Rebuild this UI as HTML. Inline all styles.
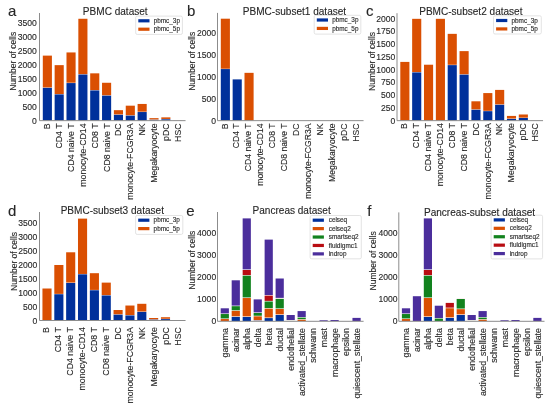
<!DOCTYPE html>
<html><head><meta charset="utf-8"><style>
html,body{margin:0;padding:0;background:#fff;width:550px;height:410px;overflow:hidden}
svg{display:block;will-change:transform}
text{font-family:"Liberation Sans", sans-serif;fill:#262626;stroke:#2a2a2a;stroke-width:0.12px}
</style></head><body>
<svg width="550" height="410" viewBox="0 0 550 410">

<rect x="42.8" y="87.79" width="9.11" height="32.68" fill="#00309b"/>
<rect x="42.8" y="55.62" width="9.11" height="31.82" fill="#da4f02"/>
<rect x="54.64" y="94.38" width="9.11" height="26.1" fill="#00309b"/>
<rect x="54.64" y="65.14" width="9.11" height="28.89" fill="#da4f02"/>
<rect x="66.49" y="83.08" width="9.11" height="37.4" fill="#00309b"/>
<rect x="66.49" y="52.44" width="9.11" height="30.28" fill="#da4f02"/>
<rect x="78.34" y="74.46" width="9.11" height="46.02" fill="#00309b"/>
<rect x="78.34" y="18.77" width="9.11" height="55.34" fill="#da4f02"/>
<rect x="90.19" y="90.41" width="9.11" height="30.06" fill="#00309b"/>
<rect x="90.19" y="73.34" width="9.11" height="16.72" fill="#da4f02"/>
<rect x="102.04" y="95.58" width="9.11" height="24.9" fill="#00309b"/>
<rect x="102.04" y="82.77" width="9.11" height="12.46" fill="#da4f02"/>
<rect x="113.89" y="114.74" width="9.11" height="5.73" fill="#00309b"/>
<rect x="113.89" y="110.17" width="9.11" height="4.23" fill="#da4f02"/>
<rect x="125.75" y="115.55" width="9.11" height="4.92" fill="#00309b"/>
<rect x="125.75" y="105.68" width="9.11" height="9.53" fill="#da4f02"/>
<rect x="137.6" y="112.04" width="9.11" height="8.44" fill="#00309b"/>
<rect x="137.6" y="103.95" width="9.11" height="7.74" fill="#da4f02"/>
<rect x="149.45" y="119.76" width="9.11" height="0.71" fill="#00309b"/>
<rect x="149.45" y="118.15" width="9.11" height="1.27" fill="#da4f02"/>
<rect x="161.3" y="119.29" width="9.11" height="1.18" fill="#00309b"/>
<rect x="161.3" y="117.37" width="9.11" height="1.58" fill="#da4f02"/>
<rect x="173.15" y="120.66" width="9.11" height="0.05" fill="#00309b"/>
<rect x="173.15" y="120.6" width="9.11" height="0.05" fill="#da4f02"/>
<line x1="39.5" y1="13" x2="39.5" y2="120.65" stroke="#8c8c8c" stroke-width="1"/>
<line x1="39.5" y1="120.65" x2="185.55" y2="120.65" stroke="#8c8c8c" stroke-width="1"/>
<text x="36.9" y="123.73" font-size="8.6" text-anchor="end">0</text>
<text x="36.9" y="109.78" font-size="8.6" text-anchor="end">500</text>
<text x="36.9" y="95.83" font-size="8.6" text-anchor="end">1000</text>
<text x="36.9" y="81.88" font-size="8.6" text-anchor="end">1500</text>
<text x="36.9" y="67.93" font-size="8.6" text-anchor="end">2000</text>
<text x="36.9" y="53.98" font-size="8.6" text-anchor="end">2500</text>
<text x="36.9" y="40.03" font-size="8.6" text-anchor="end">3000</text>
<text x="36.9" y="26.08" font-size="8.6" text-anchor="end">3500</text>
<text transform="translate(50.38 123.45) rotate(-90)" font-size="8.75" text-anchor="end">B</text>
<text transform="translate(62.23 123.45) rotate(-90)" font-size="8.75" text-anchor="end">CD4 T</text>
<text transform="translate(74.08 123.45) rotate(-90)" font-size="8.75" text-anchor="end">CD4 naive T</text>
<text transform="translate(85.93 123.45) rotate(-90)" font-size="8.75" text-anchor="end">monocyte-CD14</text>
<text transform="translate(97.78 123.45) rotate(-90)" font-size="8.75" text-anchor="end">CD8 T</text>
<text transform="translate(109.63 123.45) rotate(-90)" font-size="8.75" text-anchor="end">CD8 naive T</text>
<text transform="translate(121.48 123.45) rotate(-90)" font-size="8.75" text-anchor="end">DC</text>
<text transform="translate(133.33 123.45) rotate(-90)" font-size="8.75" text-anchor="end">monocyte-FCGR3A</text>
<text transform="translate(145.18 123.45) rotate(-90)" font-size="8.75" text-anchor="end">NK</text>
<text transform="translate(157.03 123.45) rotate(-90)" font-size="8.75" text-anchor="end">Megakaryocyte</text>
<text transform="translate(168.88 123.45) rotate(-90)" font-size="8.75" text-anchor="end">pDC</text>
<text transform="translate(180.73 123.45) rotate(-90)" font-size="8.75" text-anchor="end">HSC</text>
<text transform="translate(16 61.33) rotate(-90)" font-size="8.5" text-anchor="middle">Number of cells</text>
<text x="7.9" y="15.5" font-size="15" stroke="none" fill="#111">a</text>
<rect x="135.7" y="16.1" width="46.7" height="18.3" rx="1.5" fill="#fff" fill-opacity="0.85" stroke="#dcdcdc" stroke-width="0.8"/>
<rect x="138.3" y="19.2" width="11.2" height="3.2" fill="#00309b"/>
<text x="153.7" y="22.88" font-size="6.4" fill="#606060" stroke="none">pbmc_3p</text>
<rect x="138.3" y="27.62" width="11.2" height="3.2" fill="#da4f02"/>
<text x="153.7" y="31.3" font-size="6.4" fill="#606060" stroke="none">pbmc_5p</text>
<text x="115.25" y="15.1" font-size="10.05" text-anchor="middle">PBMC dataset</text>
<rect x="220.8" y="69.08" width="9.11" height="51.39" fill="#00309b"/>
<rect x="220.8" y="18.7" width="9.11" height="50.04" fill="#da4f02"/>
<rect x="232.65" y="79.4" width="9.11" height="41.08" fill="#00309b"/>
<rect x="244.5" y="72.84" width="9.11" height="47.63" fill="#da4f02"/>
<line x1="217.5" y1="12.9" x2="217.5" y2="120.65" stroke="#8c8c8c" stroke-width="1"/>
<line x1="217.5" y1="120.65" x2="363.55" y2="120.65" stroke="#8c8c8c" stroke-width="1"/>
<text x="216.1" y="123.73" font-size="8.6" text-anchor="end">0</text>
<text x="216.1" y="101.88" font-size="8.6" text-anchor="end">500</text>
<text x="216.1" y="80.03" font-size="8.6" text-anchor="end">1000</text>
<text x="216.1" y="58.18" font-size="8.6" text-anchor="end">1500</text>
<text x="216.1" y="36.33" font-size="8.6" text-anchor="end">2000</text>
<text transform="translate(227.55 123.45) rotate(-90)" font-size="8.65" text-anchor="end">B</text>
<text transform="translate(239.47 123.45) rotate(-90)" font-size="8.65" text-anchor="end">CD4 T</text>
<text transform="translate(251.39 123.45) rotate(-90)" font-size="8.65" text-anchor="end">CD4 naive T</text>
<text transform="translate(263.31 123.45) rotate(-90)" font-size="8.65" text-anchor="end">monocyte-CD14</text>
<text transform="translate(275.23 123.45) rotate(-90)" font-size="8.65" text-anchor="end">CD8 T</text>
<text transform="translate(287.15 123.45) rotate(-90)" font-size="8.65" text-anchor="end">CD8 naive T</text>
<text transform="translate(299.07 123.45) rotate(-90)" font-size="8.65" text-anchor="end">DC</text>
<text transform="translate(310.99 123.45) rotate(-90)" font-size="8.65" text-anchor="end">monocyte-FCGR3A</text>
<text transform="translate(322.91 123.45) rotate(-90)" font-size="8.65" text-anchor="end">NK</text>
<text transform="translate(334.83 123.45) rotate(-90)" font-size="8.65" text-anchor="end">Megakaryocyte</text>
<text transform="translate(346.75 123.45) rotate(-90)" font-size="8.65" text-anchor="end">pDC</text>
<text transform="translate(358.67 123.45) rotate(-90)" font-size="8.65" text-anchor="end">HSC</text>
<text transform="translate(195.3 61.28) rotate(-90)" font-size="8.5" text-anchor="middle">Number of cells</text>
<text x="186.9" y="15.9" font-size="15" stroke="none" fill="#111">b</text>
<rect x="314.2" y="15.3" width="46.6" height="18.8" rx="1.5" fill="#fff" fill-opacity="0.85" stroke="#dcdcdc" stroke-width="0.8"/>
<rect x="316.8" y="18.4" width="11.2" height="3.2" fill="#00309b"/>
<text x="332.2" y="22.08" font-size="6.4" fill="#606060" stroke="none">pbmc_3p</text>
<rect x="316.8" y="26.82" width="11.2" height="3.2" fill="#da4f02"/>
<text x="332.2" y="30.5" font-size="6.4" fill="#606060" stroke="none">pbmc_5p</text>
<text x="294.5" y="14.7" font-size="10.05" text-anchor="middle">PBMC-subset1 dataset</text>
<rect x="400.3" y="61.91" width="9.11" height="58.57" fill="#da4f02"/>
<rect x="412.15" y="72.38" width="9.11" height="48.09" fill="#00309b"/>
<rect x="412.15" y="18.83" width="9.11" height="53.2" fill="#da4f02"/>
<rect x="424" y="64.72" width="9.11" height="55.76" fill="#da4f02"/>
<rect x="435.85" y="18.83" width="9.11" height="101.65" fill="#da4f02"/>
<rect x="447.69" y="65.13" width="9.11" height="55.35" fill="#00309b"/>
<rect x="447.69" y="33.85" width="9.11" height="30.92" fill="#da4f02"/>
<rect x="459.55" y="74.58" width="9.11" height="45.9" fill="#00309b"/>
<rect x="459.55" y="51.12" width="9.11" height="23.1" fill="#da4f02"/>
<rect x="471.4" y="109.69" width="9.11" height="10.79" fill="#00309b"/>
<rect x="471.4" y="101.3" width="9.11" height="8.03" fill="#da4f02"/>
<rect x="483.25" y="111.17" width="9.11" height="9.31" fill="#00309b"/>
<rect x="483.25" y="93.08" width="9.11" height="17.74" fill="#da4f02"/>
<rect x="495.1" y="104.73" width="9.11" height="15.75" fill="#00309b"/>
<rect x="495.1" y="89.91" width="9.11" height="14.47" fill="#da4f02"/>
<rect x="506.94" y="118.88" width="9.11" height="1.59" fill="#00309b"/>
<rect x="506.94" y="115.92" width="9.11" height="2.61" fill="#da4f02"/>
<rect x="518.79" y="118.01" width="9.11" height="2.46" fill="#00309b"/>
<rect x="518.79" y="114.49" width="9.11" height="3.18" fill="#da4f02"/>
<rect x="530.64" y="120.52" width="9.11" height="0.05" fill="#00309b"/>
<rect x="530.64" y="120.42" width="9.11" height="0.05" fill="#da4f02"/>
<line x1="397" y1="13.2" x2="397" y2="120.65" stroke="#8c8c8c" stroke-width="1"/>
<line x1="397" y1="120.65" x2="543.05" y2="120.65" stroke="#8c8c8c" stroke-width="1"/>
<text x="395.3" y="123.73" font-size="8.6" text-anchor="end">0</text>
<text x="395.3" y="110.95" font-size="8.6" text-anchor="end">250</text>
<text x="395.3" y="98.18" font-size="8.6" text-anchor="end">500</text>
<text x="395.3" y="85.4" font-size="8.6" text-anchor="end">750</text>
<text x="395.3" y="72.63" font-size="8.6" text-anchor="end">1000</text>
<text x="395.3" y="59.85" font-size="8.6" text-anchor="end">1250</text>
<text x="395.3" y="47.08" font-size="8.6" text-anchor="end">1500</text>
<text x="395.3" y="34.3" font-size="8.6" text-anchor="end">1750</text>
<text x="395.3" y="21.53" font-size="8.6" text-anchor="end">2000</text>
<text transform="translate(406.88 123.05) rotate(-90)" font-size="8.75" text-anchor="end">B</text>
<text transform="translate(418.83 123.05) rotate(-90)" font-size="8.75" text-anchor="end">CD4 T</text>
<text transform="translate(430.78 123.05) rotate(-90)" font-size="8.75" text-anchor="end">CD4 naive T</text>
<text transform="translate(442.73 123.05) rotate(-90)" font-size="8.75" text-anchor="end">monocyte-CD14</text>
<text transform="translate(454.68 123.05) rotate(-90)" font-size="8.75" text-anchor="end">CD8 T</text>
<text transform="translate(466.63 123.05) rotate(-90)" font-size="8.75" text-anchor="end">CD8 naive T</text>
<text transform="translate(478.58 123.05) rotate(-90)" font-size="8.75" text-anchor="end">DC</text>
<text transform="translate(490.53 123.05) rotate(-90)" font-size="8.75" text-anchor="end">monocyte-FCGR3A</text>
<text transform="translate(502.48 123.05) rotate(-90)" font-size="8.75" text-anchor="end">NK</text>
<text transform="translate(514.43 123.05) rotate(-90)" font-size="8.75" text-anchor="end">Megakaryocyte</text>
<text transform="translate(526.38 123.05) rotate(-90)" font-size="8.75" text-anchor="end">pDC</text>
<text transform="translate(538.33 123.05) rotate(-90)" font-size="8.75" text-anchor="end">HSC</text>
<text transform="translate(375 61.42) rotate(-90)" font-size="8.5" text-anchor="middle">Number of cells</text>
<text x="365.9" y="15.5" font-size="15" stroke="none" fill="#111">c</text>
<rect x="493.5" y="15.8" width="47.8" height="18.2" rx="1.5" fill="#fff" fill-opacity="0.85" stroke="#dcdcdc" stroke-width="0.8"/>
<rect x="496.1" y="18.9" width="11.2" height="3.2" fill="#00309b"/>
<text x="511.5" y="22.58" font-size="6.4" fill="#606060" stroke="none">pbmc_3p</text>
<rect x="496.1" y="27.32" width="11.2" height="3.2" fill="#da4f02"/>
<text x="511.5" y="31" font-size="6.4" fill="#606060" stroke="none">pbmc_5p</text>
<text x="470.85" y="15.4" font-size="10.05" text-anchor="middle">PBMC-subset2 dataset</text>
<rect x="42.44" y="288.51" width="9.11" height="31.82" fill="#da4f02"/>
<rect x="54.3" y="294.23" width="9.11" height="26.1" fill="#00309b"/>
<rect x="54.3" y="264.99" width="9.11" height="28.89" fill="#da4f02"/>
<rect x="66.14" y="282.93" width="9.11" height="37.4" fill="#00309b"/>
<rect x="66.14" y="252.29" width="9.11" height="30.28" fill="#da4f02"/>
<rect x="77.99" y="274.31" width="9.11" height="46.02" fill="#00309b"/>
<rect x="77.99" y="218.62" width="9.11" height="55.34" fill="#da4f02"/>
<rect x="89.84" y="290.26" width="9.11" height="30.06" fill="#00309b"/>
<rect x="89.84" y="273.19" width="9.11" height="16.72" fill="#da4f02"/>
<rect x="101.69" y="295.43" width="9.11" height="24.9" fill="#00309b"/>
<rect x="101.69" y="282.62" width="9.11" height="12.46" fill="#da4f02"/>
<rect x="113.54" y="314.59" width="9.11" height="5.73" fill="#00309b"/>
<rect x="113.54" y="310.02" width="9.11" height="4.23" fill="#da4f02"/>
<rect x="125.39" y="315.4" width="9.11" height="4.92" fill="#00309b"/>
<rect x="125.39" y="305.53" width="9.11" height="9.53" fill="#da4f02"/>
<rect x="137.25" y="311.89" width="9.11" height="8.44" fill="#00309b"/>
<rect x="137.25" y="303.8" width="9.11" height="7.74" fill="#da4f02"/>
<rect x="149.09" y="319.61" width="9.11" height="0.71" fill="#00309b"/>
<rect x="149.09" y="318" width="9.11" height="1.27" fill="#da4f02"/>
<rect x="160.95" y="319.14" width="9.11" height="1.18" fill="#00309b"/>
<rect x="160.95" y="317.22" width="9.11" height="1.58" fill="#da4f02"/>
<rect x="172.8" y="320.51" width="9.11" height="0.05" fill="#00309b"/>
<rect x="172.8" y="320.45" width="9.11" height="0.05" fill="#da4f02"/>
<line x1="39.5" y1="212" x2="39.5" y2="320.5" stroke="#8c8c8c" stroke-width="1"/>
<line x1="39.5" y1="320.5" x2="185.55" y2="320.5" stroke="#8c8c8c" stroke-width="1"/>
<text x="37.4" y="323.58" font-size="8.6" text-anchor="end">0</text>
<text x="37.4" y="309.63" font-size="8.6" text-anchor="end">500</text>
<text x="37.4" y="295.68" font-size="8.6" text-anchor="end">1000</text>
<text x="37.4" y="281.73" font-size="8.6" text-anchor="end">1500</text>
<text x="37.4" y="267.78" font-size="8.6" text-anchor="end">2000</text>
<text x="37.4" y="253.83" font-size="8.6" text-anchor="end">2500</text>
<text x="37.4" y="239.88" font-size="8.6" text-anchor="end">3000</text>
<text x="37.4" y="225.93" font-size="8.6" text-anchor="end">3500</text>
<text transform="translate(48.83 327.2) rotate(-90)" font-size="8.75" text-anchor="end">B</text>
<text transform="translate(60.85 327.2) rotate(-90)" font-size="8.75" text-anchor="end">CD4 T</text>
<text transform="translate(72.87 327.2) rotate(-90)" font-size="8.75" text-anchor="end">CD4 naive T</text>
<text transform="translate(84.89 327.2) rotate(-90)" font-size="8.75" text-anchor="end">monocyte-CD14</text>
<text transform="translate(96.91 327.2) rotate(-90)" font-size="8.75" text-anchor="end">CD8 T</text>
<text transform="translate(108.93 327.2) rotate(-90)" font-size="8.75" text-anchor="end">CD8 naive T</text>
<text transform="translate(120.95 327.2) rotate(-90)" font-size="8.75" text-anchor="end">DC</text>
<text transform="translate(132.97 327.2) rotate(-90)" font-size="8.75" text-anchor="end">monocyte-FCGR3A</text>
<text transform="translate(144.99 327.2) rotate(-90)" font-size="8.75" text-anchor="end">NK</text>
<text transform="translate(157.01 327.2) rotate(-90)" font-size="8.75" text-anchor="end">Megakaryocyte</text>
<text transform="translate(169.03 327.2) rotate(-90)" font-size="8.75" text-anchor="end">pDC</text>
<text transform="translate(181.05 327.2) rotate(-90)" font-size="8.75" text-anchor="end">HSC</text>
<text transform="translate(17.4 261.45) rotate(-90)" font-size="8.5" text-anchor="middle">Number of cells</text>
<text x="7.9" y="216" font-size="15" stroke="none" fill="#111">d</text>
<rect x="135.6" y="215.5" width="47.2" height="18.9" rx="1.5" fill="#fff" fill-opacity="0.85" stroke="#dcdcdc" stroke-width="0.8"/>
<rect x="138.2" y="218.6" width="11.2" height="3.2" fill="#00309b"/>
<text x="153.6" y="222.28" font-size="6.4" fill="#606060" stroke="none">pbmc_3p</text>
<rect x="138.2" y="227.02" width="11.2" height="3.2" fill="#da4f02"/>
<text x="153.6" y="230.7" font-size="6.4" fill="#606060" stroke="none">pbmc_5p</text>
<text x="112.3" y="214.2" font-size="10.05" text-anchor="middle">PBMC-subset3 dataset</text>
<rect x="220.7" y="319.06" width="8.2" height="1.94" fill="#da4f02"/>
<rect x="220.7" y="314.04" width="8.2" height="4.42" fill="#12821e"/>
<rect x="220.7" y="308.3" width="8.2" height="5.15" fill="#4b2e9c"/>
<rect x="231.68" y="316.89" width="8.2" height="4.11" fill="#00309b"/>
<rect x="231.68" y="310.86" width="8.2" height="5.43" fill="#da4f02"/>
<rect x="231.68" y="306.2" width="8.2" height="4.06" fill="#12821e"/>
<rect x="231.68" y="280.3" width="8.2" height="25.3" fill="#4b2e9c"/>
<rect x="242.66" y="317" width="8.2" height="4" fill="#00309b"/>
<rect x="242.66" y="298.04" width="8.2" height="18.36" fill="#da4f02"/>
<rect x="242.66" y="275.65" width="8.2" height="21.79" fill="#12821e"/>
<rect x="242.66" y="270" width="8.2" height="5.06" fill="#b80c12"/>
<rect x="242.66" y="218.39" width="8.2" height="51" fill="#4b2e9c"/>
<rect x="253.64" y="320.76" width="8.2" height="0.24" fill="#00309b"/>
<rect x="253.64" y="316.34" width="8.2" height="3.82" fill="#da4f02"/>
<rect x="253.64" y="313" width="8.2" height="2.74" fill="#12821e"/>
<rect x="253.64" y="299.39" width="8.2" height="13.01" fill="#4b2e9c"/>
<rect x="264.62" y="318.11" width="8.2" height="2.89" fill="#00309b"/>
<rect x="264.62" y="308.65" width="8.2" height="8.86" fill="#da4f02"/>
<rect x="264.62" y="301.49" width="8.2" height="6.56" fill="#12821e"/>
<rect x="264.62" y="295.61" width="8.2" height="5.28" fill="#b80c12"/>
<rect x="264.62" y="239.61" width="8.2" height="55.4" fill="#4b2e9c"/>
<rect x="275.6" y="314.99" width="8.2" height="6.01" fill="#00309b"/>
<rect x="275.6" y="309" width="8.2" height="5.39" fill="#da4f02"/>
<rect x="275.6" y="298.9" width="8.2" height="9.5" fill="#12821e"/>
<rect x="275.6" y="298.46" width="8.2" height="0.05" fill="#b80c12"/>
<rect x="275.6" y="278.5" width="8.2" height="19.36" fill="#4b2e9c"/>
<rect x="286.58" y="321.27" width="8.2" height="0.05" fill="#00309b"/>
<rect x="286.58" y="320.94" width="8.2" height="0.05" fill="#da4f02"/>
<rect x="286.58" y="320.61" width="8.2" height="0.05" fill="#12821e"/>
<rect x="286.58" y="315.01" width="8.2" height="4.99" fill="#4b2e9c"/>
<rect x="297.56" y="319.7" width="8.2" height="1.3" fill="#da4f02"/>
<rect x="297.56" y="317.6" width="8.2" height="1.5" fill="#12821e"/>
<rect x="297.56" y="311.08" width="8.2" height="5.92" fill="#4b2e9c"/>
<rect x="308.54" y="321.51" width="8.2" height="0.05" fill="#4b2e9c"/>
<rect x="319.52" y="320.27" width="8.2" height="0.73" fill="#4b2e9c"/>
<rect x="330.5" y="320.01" width="8.2" height="0.99" fill="#4b2e9c"/>
<rect x="341.48" y="321.53" width="8.2" height="0.05" fill="#4b2e9c"/>
<rect x="352.46" y="317.89" width="8.2" height="3.11" fill="#4b2e9c"/>
<line x1="217.5" y1="212" x2="217.5" y2="321.3" stroke="#8c8c8c" stroke-width="1"/>
<line x1="217.5" y1="321.3" x2="363.6" y2="321.3" stroke="#8c8c8c" stroke-width="1"/>
<text x="216.2" y="324.38" font-size="8.6" text-anchor="end">0</text>
<text x="216.2" y="302.28" font-size="8.6" text-anchor="end">1000</text>
<text x="216.2" y="280.18" font-size="8.6" text-anchor="end">2000</text>
<text x="216.2" y="258.08" font-size="8.6" text-anchor="end">3000</text>
<text x="216.2" y="235.98" font-size="8.6" text-anchor="end">4000</text>
<text transform="translate(228.15 328.1) rotate(-90)" font-size="8.8" text-anchor="end">gamma</text>
<text transform="translate(239.13 328.1) rotate(-90)" font-size="8.8" text-anchor="end">acinar</text>
<text transform="translate(250.11 328.1) rotate(-90)" font-size="8.8" text-anchor="end">alpha</text>
<text transform="translate(261.09 328.1) rotate(-90)" font-size="8.8" text-anchor="end">delta</text>
<text transform="translate(272.07 328.1) rotate(-90)" font-size="8.8" text-anchor="end">beta</text>
<text transform="translate(283.05 328.1) rotate(-90)" font-size="8.8" text-anchor="end">ductal</text>
<text transform="translate(294.03 328.1) rotate(-90)" font-size="8.8" text-anchor="end">endothelial</text>
<text transform="translate(305.01 328.1) rotate(-90)" font-size="8.8" text-anchor="end">activated_stellate</text>
<text transform="translate(315.99 328.1) rotate(-90)" font-size="8.8" text-anchor="end">schwann</text>
<text transform="translate(326.97 328.1) rotate(-90)" font-size="8.8" text-anchor="end">mast</text>
<text transform="translate(337.95 328.1) rotate(-90)" font-size="8.8" text-anchor="end">macrophage</text>
<text transform="translate(348.93 328.1) rotate(-90)" font-size="8.8" text-anchor="end">epsilon</text>
<text transform="translate(359.91 328.1) rotate(-90)" font-size="8.8" text-anchor="end">quiescent_stellate</text>
<text transform="translate(195 260.2) rotate(-90)" font-size="8.5" text-anchor="middle">Number of cells</text>
<text x="186.3" y="215.6" font-size="15" stroke="none" fill="#111">e</text>
<rect x="310.1" y="215.5" width="51.2" height="43.3" rx="1.5" fill="#fff" fill-opacity="0.85" stroke="#dcdcdc" stroke-width="0.8"/>
<rect x="312.7" y="218.6" width="11.2" height="3.2" fill="#00309b"/>
<text x="328.7" y="222.28" font-size="6.4" fill="#606060" stroke="none">celseq</text>
<rect x="312.7" y="227.02" width="11.2" height="3.2" fill="#da4f02"/>
<text x="328.7" y="230.7" font-size="6.4" fill="#606060" stroke="none">celseq2</text>
<rect x="312.7" y="235.44" width="11.2" height="3.2" fill="#12821e"/>
<text x="328.7" y="239.12" font-size="6.4" fill="#606060" stroke="none">smartseq2</text>
<rect x="312.7" y="243.86" width="11.2" height="3.2" fill="#b80c12"/>
<text x="328.7" y="247.54" font-size="6.4" fill="#606060" stroke="none">fluidigmc1</text>
<rect x="312.7" y="252.28" width="11.2" height="3.2" fill="#4b2e9c"/>
<text x="328.7" y="255.96" font-size="6.4" fill="#606060" stroke="none">indrop</text>
<text x="291.65" y="214.4" font-size="10.05" text-anchor="middle">Pancreas dataset</text>
<rect x="401.9" y="319.06" width="8.2" height="1.94" fill="#da4f02"/>
<rect x="401.9" y="314.04" width="8.2" height="4.42" fill="#12821e"/>
<rect x="401.9" y="308.3" width="8.2" height="5.15" fill="#4b2e9c"/>
<rect x="412.85" y="296.21" width="8.2" height="24.79" fill="#4b2e9c"/>
<rect x="423.8" y="317" width="8.2" height="4" fill="#00309b"/>
<rect x="423.8" y="298.04" width="8.2" height="18.36" fill="#da4f02"/>
<rect x="423.8" y="275.65" width="8.2" height="21.79" fill="#12821e"/>
<rect x="423.8" y="270" width="8.2" height="5.06" fill="#b80c12"/>
<rect x="423.8" y="218.39" width="8.2" height="51" fill="#4b2e9c"/>
<rect x="434.75" y="318.59" width="8.2" height="2.41" fill="#12821e"/>
<rect x="434.75" y="305.71" width="8.2" height="12.28" fill="#4b2e9c"/>
<rect x="445.7" y="318" width="8.2" height="3" fill="#00309b"/>
<rect x="445.7" y="308.25" width="8.2" height="9.15" fill="#da4f02"/>
<rect x="445.7" y="302.9" width="8.2" height="4.75" fill="#b80c12"/>
<rect x="456.65" y="314.99" width="8.2" height="6.01" fill="#00309b"/>
<rect x="456.65" y="309.16" width="8.2" height="5.23" fill="#da4f02"/>
<rect x="456.65" y="298.99" width="8.2" height="9.57" fill="#12821e"/>
<rect x="456.65" y="298.55" width="8.2" height="0.05" fill="#b80c12"/>
<rect x="467.6" y="321.27" width="8.2" height="0.05" fill="#00309b"/>
<rect x="467.6" y="320.94" width="8.2" height="0.05" fill="#da4f02"/>
<rect x="467.6" y="320.61" width="8.2" height="0.05" fill="#12821e"/>
<rect x="467.6" y="315.01" width="8.2" height="4.99" fill="#4b2e9c"/>
<rect x="478.55" y="319.7" width="8.2" height="1.3" fill="#da4f02"/>
<rect x="478.55" y="317.6" width="8.2" height="1.5" fill="#12821e"/>
<rect x="478.55" y="311.08" width="8.2" height="5.92" fill="#4b2e9c"/>
<rect x="489.5" y="321.51" width="8.2" height="0.05" fill="#4b2e9c"/>
<rect x="500.45" y="320.27" width="8.2" height="0.73" fill="#4b2e9c"/>
<rect x="511.4" y="320.01" width="8.2" height="0.99" fill="#4b2e9c"/>
<rect x="522.35" y="321.53" width="8.2" height="0.05" fill="#4b2e9c"/>
<rect x="533.3" y="317.89" width="8.2" height="3.11" fill="#4b2e9c"/>
<line x1="398.8" y1="212.4" x2="398.8" y2="321.3" stroke="#8c8c8c" stroke-width="1"/>
<line x1="398.8" y1="321.3" x2="544.5" y2="321.3" stroke="#8c8c8c" stroke-width="1"/>
<text x="397.6" y="324.38" font-size="8.6" text-anchor="end">0</text>
<text x="397.6" y="302.28" font-size="8.6" text-anchor="end">1000</text>
<text x="397.6" y="280.18" font-size="8.6" text-anchor="end">2000</text>
<text x="397.6" y="258.08" font-size="8.6" text-anchor="end">3000</text>
<text x="397.6" y="235.98" font-size="8.6" text-anchor="end">4000</text>
<text transform="translate(409.35 328.1) rotate(-90)" font-size="8.8" text-anchor="end">gamma</text>
<text transform="translate(420.3 328.1) rotate(-90)" font-size="8.8" text-anchor="end">acinar</text>
<text transform="translate(431.25 328.1) rotate(-90)" font-size="8.8" text-anchor="end">alpha</text>
<text transform="translate(442.2 328.1) rotate(-90)" font-size="8.8" text-anchor="end">delta</text>
<text transform="translate(453.15 328.1) rotate(-90)" font-size="8.8" text-anchor="end">beta</text>
<text transform="translate(464.1 328.1) rotate(-90)" font-size="8.8" text-anchor="end">ductal</text>
<text transform="translate(475.05 328.1) rotate(-90)" font-size="8.8" text-anchor="end">endothelial</text>
<text transform="translate(486 328.1) rotate(-90)" font-size="8.8" text-anchor="end">activated_stellate</text>
<text transform="translate(496.95 328.1) rotate(-90)" font-size="8.8" text-anchor="end">schwann</text>
<text transform="translate(507.9 328.1) rotate(-90)" font-size="8.8" text-anchor="end">mast</text>
<text transform="translate(518.85 328.1) rotate(-90)" font-size="8.8" text-anchor="end">macrophage</text>
<text transform="translate(529.8 328.1) rotate(-90)" font-size="8.8" text-anchor="end">epsilon</text>
<text transform="translate(540.75 328.1) rotate(-90)" font-size="8.8" text-anchor="end">quiescent_stellate</text>
<text transform="translate(376.2 260.85) rotate(-90)" font-size="8.5" text-anchor="middle">Number of cells</text>
<text x="367.3" y="215.5" font-size="15" stroke="none" fill="#111">f</text>
<rect x="491.1" y="215.2" width="51.5" height="43.7" rx="1.5" fill="#fff" fill-opacity="0.85" stroke="#dcdcdc" stroke-width="0.8"/>
<rect x="493.7" y="218.3" width="11.2" height="3.2" fill="#00309b"/>
<text x="509.7" y="221.98" font-size="6.4" fill="#606060" stroke="none">celseq</text>
<rect x="493.7" y="226.72" width="11.2" height="3.2" fill="#da4f02"/>
<text x="509.7" y="230.4" font-size="6.4" fill="#606060" stroke="none">celseq2</text>
<rect x="493.7" y="235.14" width="11.2" height="3.2" fill="#12821e"/>
<text x="509.7" y="238.82" font-size="6.4" fill="#606060" stroke="none">smartseq2</text>
<rect x="493.7" y="243.56" width="11.2" height="3.2" fill="#b80c12"/>
<text x="509.7" y="247.24" font-size="6.4" fill="#606060" stroke="none">fluidigmc1</text>
<rect x="493.7" y="251.98" width="11.2" height="3.2" fill="#4b2e9c"/>
<text x="509.7" y="255.66" font-size="6.4" fill="#606060" stroke="none">indrop</text>
<text x="479.55" y="215.5" font-size="10.05" text-anchor="middle">Pancreas-subset dataset</text>
</svg></body></html>
